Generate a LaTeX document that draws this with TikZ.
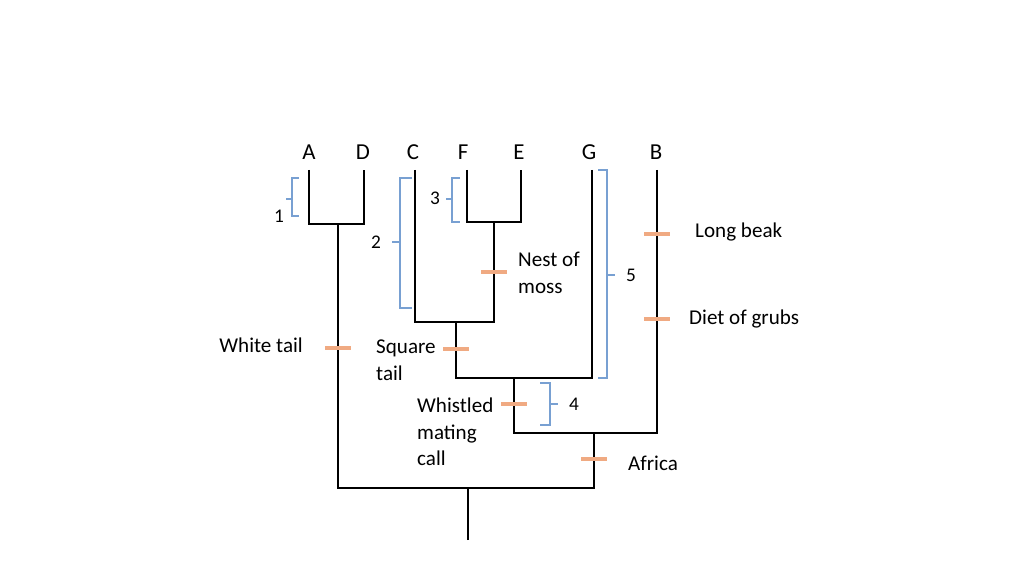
\documentclass[tikz,border=0pt]{standalone}
\usepackage{fontspec}
\setmainfont{Carlito}
\definecolor{tk}{RGB}{240,170,130}
\definecolor{br}{RGB}{120,160,210}
\begin{document}
\begin{tikzpicture}[x=0.02cm,y=-0.02cm,
  tree/.style={line width=1.5pt,black},
  tick/.style={line width=2pt,tk},
  brk/.style={line width=0.7pt,br},
  lab/.style={font=\fontsize{13}{13}\selectfont},
  txt/.style={font=\fontsize{12}{15}\selectfont,align=left},
  num/.style={font=\fontsize{11}{11}\selectfont}]
\useasboundingbox (0,0) rectangle (1024,567);
% coordinates
\coordinate (root) at (468,540);
\coordinate (rt) at (468,488);
\coordinate (L) at (338,488); \coordinate (R) at (594,488);
\coordinate (AD) at (338,224);
\coordinate (GB) at (594,433);
\coordinate (n4) at (514,433); \coordinate (n4t) at (514,378);
\coordinate (n3) at (456,378); \coordinate (n3t) at (456,322);
\coordinate (CFE) at (415,322); \coordinate (FEb) at (494,322);
\coordinate (FE) at (494,222);
\node[lab] (A) at (309,152) {A};
\node[lab] (D) at (363,152) {D};
\node[lab] (C) at (413,152) {C};
\node[lab] (F) at (463,152) {F};
\node[lab] (E) at (519,152) {E};
\node[lab] (G) at (589,152) {G};
\node[lab] (B) at (656,152) {B};
% tree
\draw[tree] (root) -- (rt);
\draw[tree] (AD) -- (L) -- (R) -- (GB);
\draw[tree] (309,170) |- (AD) -| (364,170);
\draw[tree] (657,170) |- (GB) -| (n4) -- (n4t);
\draw[tree] (592,170) |- (n4t) -| (n3) -- (n3t);
\draw[tree] (415,170) |- (n3t) -| (FEb) -- (FE);
\draw[tree] (467,170) |- (FE) -| (521,170);
% ticks
\foreach \x/\y in {338/348,456/349,494/272,514/404,594/459,657/234,657/319}
  \draw[tick] (\x-13,\y) -- (\x+13,\y);
% texts
\node[txt,anchor=east] (wt) at (309,345) {White tail};
\node[txt,anchor=north west] (sq) at (370,334) {Square\\tail};
\node[txt,anchor=north west] (nm) at (512,246) {Nest of\\moss};
\node[txt,anchor=north west] (wm) at (411,392) {Whistled\\mating\\call};
\node[txt,anchor=west] (af) at (622,463) {Africa};
\node[txt,anchor=west] (lb) at (689,232) {Long beak};
\node[txt,anchor=west] (dg) at (683,319) {Diet of grubs};
% brackets
\draw[brk] (299,178) -- (292,178) -- (292,216) -- (299,216) (292,199) -- (286,199);
\node[num] (b1) at (279,216) {1};
\draw[brk] (412,178) -- (400,178) -- (400,308) -- (412,308) (400,242) -- (392,242);
\node[num] (b2) at (376,242) {2};
\draw[brk] (460,178) -- (452,178) -- (452,222) -- (460,222) (452,199) -- (446,199);
\node[num] (b3) at (435,198) {3};
\draw[brk] (540,383) -- (550,383) -- (550,425) -- (540,425) (550,404) -- (558,404);
\node[num] (b4) at (574,404) {4};
\draw[brk] (598,170) -- (607,170) -- (607,378) -- (598,378) (607,275) -- (615,275);
\node[num] (b5) at (631,275) {5};
\end{tikzpicture}
\end{document}
